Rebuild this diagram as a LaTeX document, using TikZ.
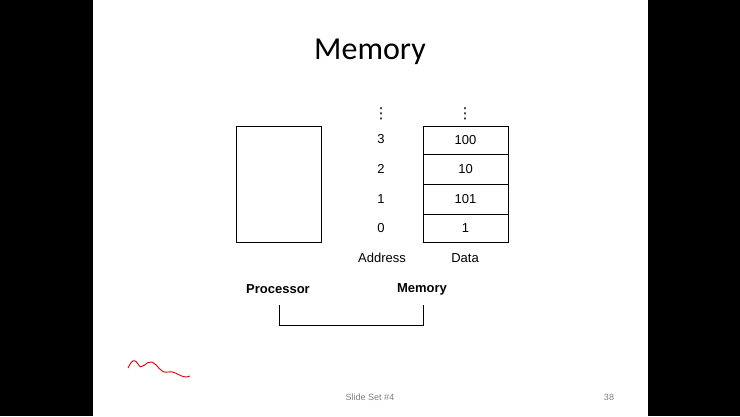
\documentclass[tikz,border=0pt]{standalone}
\usepackage{fontspec}
\setmainfont{Liberation Sans}
\newfontfamily\titlefont{Carlito}
\newfontfamily\dvfont{DejaVu Sans}
\begin{document}
\begin{tikzpicture}[x=1pt,y=-1pt,
  lbl/.style={font=\fontsize{13}{15}\selectfont},
  dots/.style={font=\dvfont\fontsize{15}{17}\selectfont,inner sep=0pt},
  cell/.style={draw,line width=0.8pt,minimum width=85pt,inner sep=0pt,font=\fontsize{13}{15}\selectfont}]
\useasboundingbox (0,0) rectangle (740,416);
\fill[white] (0,0) rectangle (740,416);
\fill[black] (0,0) rectangle (93,416);
\fill[black] (648,0) rectangle (740,416);
\node[font=\titlefont\fontsize{32}{36}\selectfont] (title) at (370,52) {Memory};
\node[draw,line width=0.8pt,minimum width=85pt,minimum height=116pt,inner sep=0pt] (proc) at (278.5,184) {};
\node[cell,minimum height=28pt] (c3) at (465.5,140) {100};
\node[cell,minimum height=30pt] (c2) at (465.5,169) {10};
\node[cell,minimum height=30pt] (c1) at (465.5,199) {101};
\node[cell,minimum height=28pt] (c0) at (465.5,228) {1};
\node[lbl] (a3) at (381,139) {3};
\node[lbl] (a2) at (381,169) {2};
\node[lbl] (a1) at (381,199) {1};
\node[lbl] (a0) at (381,228) {0};
\node[dots] (va) at (381,114) {⋮};
\node[dots] (vd) at (465,114) {⋮};
\node[lbl] (addr) at (382,258) {Address};
\node[lbl] (data) at (465,258) {Data};
\node[lbl,font=\bfseries\fontsize{13}{15}\selectfont] (plbl) at (278,289) {Processor};
\node[lbl,font=\bfseries\fontsize{13}{15}\selectfont] (mlbl) at (422,289) {Memory};
\coordinate (b1) at (279,305);
\coordinate (b4) at (423,305);
\draw[line width=0.8pt] (b1) -- (279,325) -- (423,325) -- (b4);
\draw[red!85!black,line width=0.9pt] (128,368) .. controls (132,360) and (134,358) .. (138,364)
  .. controls (142,372) and (146,360) .. (152,362) .. controls (158,364) and (160,374) .. (168,372)
  .. controls (176,370) and (182,380) .. (190,376);
\node[font=\fontsize{9}{11}\selectfont,text=gray] (foot) at (370,397) {Slide Set \#4};
\node[font=\fontsize{9}{11}\selectfont,text=gray] (num) at (609,397) {38};
\end{tikzpicture}
\end{document}
